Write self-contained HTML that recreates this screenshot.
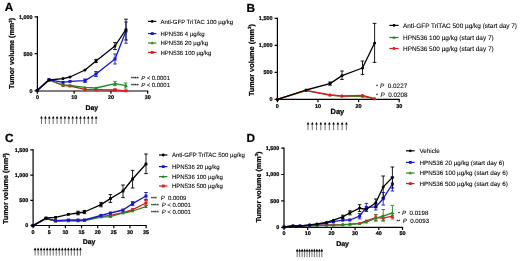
<!DOCTYPE html>
<html><head><meta charset="utf-8"><title>Figure</title>
<style>html,body{margin:0;padding:0;background:#fff}svg{display:block}</style></head>
<body>
<svg width="520" height="261" viewBox="0 0 520 261" font-family="'Liberation Sans',Arial,sans-serif" fill="#000" text-rendering="geometricPrecision" shape-rendering="geometricPrecision">
<rect width="520" height="261" fill="#fff"/>
<text x="4.80" y="11.30" font-size="11.8" font-weight="bold" text-anchor="start"  stroke="#000" stroke-width="0.22">A</text>
<text x="246.60" y="12.20" font-size="11.8" font-weight="bold" text-anchor="start"  stroke="#000" stroke-width="0.22">B</text>
<text x="5.00" y="142.20" font-size="11.8" font-weight="bold" text-anchor="start"  stroke="#000" stroke-width="0.22">C</text>
<text x="246.60" y="141.80" font-size="11.8" font-weight="bold" text-anchor="start"  stroke="#000" stroke-width="0.22">D</text>
<path d="M37.40 16.20V91.60M36.80 91.00H148.25" stroke="#000" stroke-width="1.2" fill="none"/>
<text x="32.60" y="92.54" font-size="5.4" font-weight="bold" text-anchor="end"  stroke="#000" stroke-width="0.22">0</text>
<text x="32.60" y="55.64" font-size="5.4" font-weight="bold" text-anchor="end"  stroke="#000" stroke-width="0.22">500</text>
<text x="32.60" y="18.74" font-size="5.4" font-weight="bold" text-anchor="end"  stroke="#000" stroke-width="0.22">1,000</text>
<text x="37.40" y="98.60" font-size="5.4" font-weight="bold" text-anchor="middle"  stroke="#000" stroke-width="0.22">0</text>
<text x="74.15" y="98.60" font-size="5.4" font-weight="bold" text-anchor="middle"  stroke="#000" stroke-width="0.22">10</text>
<text x="110.90" y="98.60" font-size="5.4" font-weight="bold" text-anchor="middle"  stroke="#000" stroke-width="0.22">20</text>
<text x="147.65" y="98.60" font-size="5.4" font-weight="bold" text-anchor="middle"  stroke="#000" stroke-width="0.22">30</text>
<path d="M34.60 90.60H37.40M34.60 53.70H37.40M34.60 16.80H37.40M37.40 91.00V93.80M74.15 91.00V93.80M110.90 91.00V93.80M147.65 91.00V93.80" stroke="#000" stroke-width="1.2" fill="none"/>
<text transform="translate(14.10 53.40) rotate(-90)" font-size="7.2" font-weight="bold" text-anchor="middle" stroke="#000" stroke-width="0.22">Tumor volume (mm<tspan font-size="4.46" dy="-2.59">3</tspan><tspan dy="2.59">)</tspan></text>
<text x="91.90" y="109.60" font-size="6.9" font-weight="bold" text-anchor="middle"  stroke="#000" stroke-width="0.22">Day</text>
<path d="M41.50 117.00V124.00M45.40 117.00V124.00M49.30 117.00V124.00M53.20 117.00V124.00M57.10 117.00V124.00M61.00 117.00V124.00M64.90 117.00V124.00M68.80 117.00V124.00M72.70 117.00V124.00M76.60 117.00V124.00M80.50 117.00V124.00M84.40 117.00V124.00M88.30 117.00V124.00M92.20 117.00V124.00M96.10 117.00V124.00" stroke="#000" stroke-width="0.55" fill="none"/>
<path d="M41.50 116.00L42.85 118.60H40.15Z" fill="#000"/>
<path d="M45.40 116.00L46.75 118.60H44.05Z" fill="#000"/>
<path d="M49.30 116.00L50.65 118.60H47.95Z" fill="#000"/>
<path d="M53.20 116.00L54.55 118.60H51.85Z" fill="#000"/>
<path d="M57.10 116.00L58.45 118.60H55.75Z" fill="#000"/>
<path d="M61.00 116.00L62.35 118.60H59.65Z" fill="#000"/>
<path d="M64.90 116.00L66.25 118.60H63.55Z" fill="#000"/>
<path d="M68.80 116.00L70.15 118.60H67.45Z" fill="#000"/>
<path d="M72.70 116.00L74.05 118.60H71.35Z" fill="#000"/>
<path d="M76.60 116.00L77.95 118.60H75.25Z" fill="#000"/>
<path d="M80.50 116.00L81.85 118.60H79.15Z" fill="#000"/>
<path d="M84.40 116.00L85.75 118.60H83.05Z" fill="#000"/>
<path d="M88.30 116.00L89.65 118.60H86.95Z" fill="#000"/>
<path d="M92.20 116.00L93.55 118.60H90.85Z" fill="#000"/>
<path d="M96.10 116.00L97.45 118.60H94.75Z" fill="#000"/>
<path d="M37.20 90.60L49.00 80.00L63.00 85.40L70.00 86.00L85.00 89.40L96.00 89.60L115.00 90.00L126.00 90.80" stroke="#e8141c" stroke-width="1.3" fill="none" stroke-linejoin="round"/>
<path d="M115.00 89.00V91.00M113.20 89.00H116.80M113.20 91.00H116.80" stroke="#e8141c" stroke-width="0.9" fill="none"/>
<rect x="35.70" y="89.10" width="3.0" height="3.0" fill="#e8141c"/>
<rect x="47.50" y="78.50" width="3.0" height="3.0" fill="#e8141c"/>
<rect x="61.50" y="83.90" width="3.0" height="3.0" fill="#e8141c"/>
<rect x="68.50" y="84.50" width="3.0" height="3.0" fill="#e8141c"/>
<rect x="83.50" y="87.90" width="3.0" height="3.0" fill="#e8141c"/>
<rect x="94.50" y="88.10" width="3.0" height="3.0" fill="#e8141c"/>
<rect x="113.50" y="88.50" width="3.0" height="3.0" fill="#e8141c"/>
<rect x="124.50" y="89.30" width="3.0" height="3.0" fill="#e8141c"/>
<path d="M37.20 90.60L49.00 80.00L63.00 85.00L70.00 85.40L85.00 87.40L96.00 88.00L115.00 83.60L126.00 85.60" stroke="#1f8a1f" stroke-width="1.3" fill="none" stroke-linejoin="round"/>
<path d="M115.00 81.60V85.60M113.20 81.60H116.80M113.20 85.60H116.80M125.60 83.00V88.00M123.80 83.00H127.40M123.80 88.00H127.40" stroke="#1f8a1f" stroke-width="0.9" fill="none"/>
<path d="M37.20 88.80L38.93 91.95H35.48Z" fill="#1f8a1f"/>
<path d="M49.00 78.20L50.73 81.35H47.27Z" fill="#1f8a1f"/>
<path d="M63.00 83.20L64.72 86.35H61.27Z" fill="#1f8a1f"/>
<path d="M70.00 83.60L71.72 86.75H68.28Z" fill="#1f8a1f"/>
<path d="M85.00 85.60L86.72 88.75H83.28Z" fill="#1f8a1f"/>
<path d="M96.00 86.20L97.72 89.35H94.28Z" fill="#1f8a1f"/>
<path d="M115.00 81.80L116.72 84.95H113.28Z" fill="#1f8a1f"/>
<path d="M126.00 83.80L127.72 86.95H124.28Z" fill="#1f8a1f"/>
<path d="M37.20 90.60L49.00 79.60L63.00 82.40L70.00 81.40L85.00 80.60L96.00 74.00L115.00 59.00L126.00 31.00" stroke="#1515d8" stroke-width="1.3" fill="none" stroke-linejoin="round"/>
<path d="M96.00 71.50V76.50M94.20 71.50H97.80M94.20 76.50H97.80M115.00 54.00V64.00M113.20 54.00H116.80M113.20 64.00H116.80M126.00 22.00V43.20M124.20 22.00H127.80M124.20 43.20H127.80M85.00 79.00V82.40M83.20 79.00H86.80M83.20 82.40H86.80" stroke="#1515d8" stroke-width="0.9" fill="none"/>
<rect x="35.70" y="89.10" width="3.0" height="3.0" fill="#1515d8"/>
<rect x="47.50" y="78.10" width="3.0" height="3.0" fill="#1515d8"/>
<rect x="61.50" y="80.90" width="3.0" height="3.0" fill="#1515d8"/>
<rect x="68.50" y="79.90" width="3.0" height="3.0" fill="#1515d8"/>
<rect x="83.50" y="79.10" width="3.0" height="3.0" fill="#1515d8"/>
<rect x="94.50" y="72.50" width="3.0" height="3.0" fill="#1515d8"/>
<rect x="113.50" y="57.50" width="3.0" height="3.0" fill="#1515d8"/>
<rect x="124.50" y="29.50" width="3.0" height="3.0" fill="#1515d8"/>
<path d="M37.20 90.60L49.00 80.00L63.00 78.60L70.00 77.00L85.00 70.00L96.00 61.00L115.00 46.00L126.00 29.40" stroke="#000" stroke-width="1.3" fill="none" stroke-linejoin="round"/>
<path d="M115.00 42.50V49.50M113.20 42.50H116.80M113.20 49.50H116.80M126.00 19.20V40.00M124.20 19.20H127.80M124.20 40.00H127.80M96.00 59.40V62.60M94.20 59.40H97.80M94.20 62.60H97.80" stroke="#000" stroke-width="0.9" fill="none"/>
<circle cx="37.20" cy="90.60" r="1.5" fill="#000"/>
<circle cx="49.00" cy="80.00" r="1.5" fill="#000"/>
<circle cx="63.00" cy="78.60" r="1.5" fill="#000"/>
<circle cx="70.00" cy="77.00" r="1.5" fill="#000"/>
<circle cx="85.00" cy="70.00" r="1.5" fill="#000"/>
<circle cx="96.00" cy="61.00" r="1.5" fill="#000"/>
<circle cx="115.00" cy="46.00" r="1.5" fill="#000"/>
<circle cx="126.00" cy="29.40" r="1.5" fill="#000"/>
<path d="M148.00 21.40H156.40" stroke="#000" stroke-width="1.2"/>
<circle cx="152.20" cy="21.40" r="1.4" fill="#000"/>
<text x="160.50" y="23.56" font-size="6.0" font-weight="normal" text-anchor="start"  stroke="#000" stroke-width="0.08">Anti-GFP TriTAC 100 µg/kg</text>
<path d="M148.00 33.60H156.40" stroke="#1515d8" stroke-width="1.2"/>
<rect x="150.80" y="32.20" width="2.8" height="2.8" fill="#1515d8"/>
<text x="160.50" y="35.76" font-size="6.0" font-weight="normal" text-anchor="start"  stroke="#000" stroke-width="0.08">HPN536 4 µg/kg</text>
<path d="M148.00 43.00H156.40" stroke="#1f8a1f" stroke-width="1.2"/>
<path d="M152.20 41.32L153.81 44.26H150.59Z" fill="#1f8a1f"/>
<text x="160.50" y="45.16" font-size="6.0" font-weight="normal" text-anchor="start"  stroke="#000" stroke-width="0.08">HPN536 20 µg/kg</text>
<path d="M148.00 52.40H156.40" stroke="#e8141c" stroke-width="1.2"/>
<rect x="150.80" y="51.00" width="2.8" height="2.8" fill="#e8141c"/>
<text x="160.50" y="54.56" font-size="6.0" font-weight="normal" text-anchor="start"  stroke="#000" stroke-width="0.08">HPN536 100 µg/kg</text>
<text y="80.24" font-size="5.95" xml:space="preserve" stroke="#000" stroke-width="0.08"><tspan x="131.00" font-size="4.88">****</tspan><tspan x="141.30" font-style="italic">P</tspan><tspan x="146.70">&lt; 0.0001</tspan></text>
<text y="87.44" font-size="5.95" xml:space="preserve" stroke="#000" stroke-width="0.08"><tspan x="131.00" font-size="4.88">****</tspan><tspan x="141.30" font-style="italic">P</tspan><tspan x="146.70">&lt; 0.0001</tspan></text>
<path d="M277.40 17.80V100.00M276.80 99.40H399.80" stroke="#000" stroke-width="1.2" fill="none"/>
<text x="272.60" y="101.38" font-size="5.5" font-weight="bold" text-anchor="end"  stroke="#000" stroke-width="0.22">0</text>
<text x="272.60" y="74.38" font-size="5.5" font-weight="bold" text-anchor="end"  stroke="#000" stroke-width="0.22">500</text>
<text x="272.60" y="47.38" font-size="5.5" font-weight="bold" text-anchor="end"  stroke="#000" stroke-width="0.22">1,000</text>
<text x="272.60" y="20.38" font-size="5.5" font-weight="bold" text-anchor="end"  stroke="#000" stroke-width="0.22">1,500</text>
<text x="277.40" y="108.40" font-size="5.5" font-weight="bold" text-anchor="middle"  stroke="#000" stroke-width="0.22">0</text>
<text x="318.00" y="108.40" font-size="5.5" font-weight="bold" text-anchor="middle"  stroke="#000" stroke-width="0.22">10</text>
<text x="358.60" y="108.40" font-size="5.5" font-weight="bold" text-anchor="middle"  stroke="#000" stroke-width="0.22">20</text>
<text x="399.20" y="108.40" font-size="5.5" font-weight="bold" text-anchor="middle"  stroke="#000" stroke-width="0.22">30</text>
<path d="M274.60 99.40H277.40M274.60 72.40H277.40M274.60 45.40H277.40M274.60 18.40H277.40M277.40 99.40V102.20M318.00 99.40V102.20M358.60 99.40V102.20M399.20 99.40V102.20" stroke="#000" stroke-width="1.2" fill="none"/>
<text transform="translate(253.60 60.00) rotate(-90)" font-size="7.3" font-weight="bold" text-anchor="middle" stroke="#000" stroke-width="0.22">Tumor volume (mm<tspan font-size="4.53" dy="-2.63">3</tspan><tspan dy="2.63">)</tspan></text>
<text x="337.40" y="114.00" font-size="7.5" font-weight="bold" text-anchor="middle"  stroke="#000" stroke-width="0.22">Day</text>
<path d="M308.00 123.00V130.20M312.27 123.00V130.20M316.54 123.00V130.20M320.81 123.00V130.20M325.08 123.00V130.20M329.35 123.00V130.20M333.62 123.00V130.20M337.89 123.00V130.20M342.16 123.00V130.20M346.43 123.00V130.20" stroke="#000" stroke-width="0.55" fill="none"/>
<path d="M308.00 122.00L309.35 124.60H306.65Z" fill="#000"/>
<path d="M312.27 122.00L313.62 124.60H310.92Z" fill="#000"/>
<path d="M316.54 122.00L317.89 124.60H315.19Z" fill="#000"/>
<path d="M320.81 122.00L322.16 124.60H319.46Z" fill="#000"/>
<path d="M325.08 122.00L326.43 124.60H323.73Z" fill="#000"/>
<path d="M329.35 122.00L330.70 124.60H328.00Z" fill="#000"/>
<path d="M333.62 122.00L334.97 124.60H332.27Z" fill="#000"/>
<path d="M337.89 122.00L339.24 124.60H336.54Z" fill="#000"/>
<path d="M342.16 122.00L343.51 124.60H340.81Z" fill="#000"/>
<path d="M346.43 122.00L347.78 124.60H345.08Z" fill="#000"/>
<path d="M277.40 99.40L306.00 90.60L330.00 95.20L342.00 96.20L362.50 96.40L374.60 98.80" stroke="#1f8a1f" stroke-width="1.3" fill="none" stroke-linejoin="round"/>
<path d="M277.40 97.60L279.12 100.75H275.67Z" fill="#1f8a1f"/>
<path d="M306.00 88.80L307.73 91.95H304.27Z" fill="#1f8a1f"/>
<path d="M330.00 93.40L331.73 96.55H328.27Z" fill="#1f8a1f"/>
<path d="M342.00 94.40L343.73 97.55H340.27Z" fill="#1f8a1f"/>
<path d="M362.50 94.60L364.23 97.75H360.77Z" fill="#1f8a1f"/>
<path d="M374.60 97.00L376.33 100.15H372.88Z" fill="#1f8a1f"/>
<path d="M277.40 99.40L306.00 90.40L330.00 95.00L342.00 96.00L362.50 95.40L374.60 98.60" stroke="#e8141c" stroke-width="1.3" fill="none" stroke-linejoin="round"/>
<circle cx="277.40" cy="99.40" r="1.4" fill="#e8141c"/>
<circle cx="306.00" cy="90.40" r="1.4" fill="#e8141c"/>
<circle cx="330.00" cy="95.00" r="1.4" fill="#e8141c"/>
<circle cx="342.00" cy="96.00" r="1.4" fill="#e8141c"/>
<circle cx="362.50" cy="95.40" r="1.4" fill="#e8141c"/>
<circle cx="374.60" cy="98.60" r="1.4" fill="#e8141c"/>
<path d="M277.40 99.40L306.00 90.00L330.00 83.60L342.00 75.60L362.50 68.00L374.60 43.00" stroke="#000" stroke-width="1.3" fill="none" stroke-linejoin="round"/>
<path d="M342.00 71.00V79.40M340.20 71.00H343.80M340.20 79.40H343.80M362.50 61.00V74.40M360.70 61.00H364.30M360.70 74.40H364.30M374.60 23.40V62.40M372.80 23.40H376.40M372.80 62.40H376.40M330.00 82.00V85.20M328.20 82.00H331.80M328.20 85.20H331.80" stroke="#000" stroke-width="0.9" fill="none"/>
<circle cx="277.40" cy="99.40" r="1.5" fill="#000"/>
<circle cx="306.00" cy="90.00" r="1.5" fill="#000"/>
<circle cx="330.00" cy="83.60" r="1.5" fill="#000"/>
<circle cx="342.00" cy="75.60" r="1.5" fill="#000"/>
<circle cx="362.50" cy="68.00" r="1.5" fill="#000"/>
<circle cx="374.60" cy="43.00" r="1.5" fill="#000"/>
<path d="M389.40 25.40H398.60" stroke="#000" stroke-width="1.2"/>
<circle cx="394.00" cy="25.40" r="1.4" fill="#000"/>
<text x="403.00" y="27.72" font-size="6.44" font-weight="normal" text-anchor="start"  stroke="#000" stroke-width="0.08">Anti-GFP TriTAC 500 µg/kg (start day 7)</text>
<path d="M389.40 37.50H398.60" stroke="#1f8a1f" stroke-width="1.2"/>
<path d="M394.00 35.82L395.61 38.76H392.39Z" fill="#1f8a1f"/>
<text x="403.00" y="39.82" font-size="6.44" font-weight="normal" text-anchor="start"  stroke="#000" stroke-width="0.08">HPN536 100 µg/kg (start day 7)</text>
<path d="M389.40 48.50H398.60" stroke="#e8141c" stroke-width="1.2"/>
<circle cx="394.00" cy="48.50" r="1.4" fill="#e8141c"/>
<text x="403.00" y="50.82" font-size="6.44" font-weight="normal" text-anchor="start"  stroke="#000" stroke-width="0.08">HPN536 500 µg/kg (start day 7)</text>
<text y="87.99" font-size="6.35" xml:space="preserve" stroke="#000" stroke-width="0.08"><tspan x="376.00" font-size="5.21">*</tspan><tspan x="380.00" font-style="italic">P</tspan><tspan x="387.80">0.0227</tspan></text>
<text y="96.59" font-size="6.35" xml:space="preserve" stroke="#000" stroke-width="0.08"><tspan x="376.00" font-size="5.21">*</tspan><tspan x="380.40" font-style="italic">P</tspan><tspan x="388.20">0.0208</tspan></text>
<path d="M33.10 149.25V226.10M32.50 225.50H146.72" stroke="#000" stroke-width="1.2" fill="none"/>
<text x="28.30" y="227.44" font-size="5.4" font-weight="bold" text-anchor="end"  stroke="#000" stroke-width="0.22">0</text>
<text x="28.30" y="202.24" font-size="5.4" font-weight="bold" text-anchor="end"  stroke="#000" stroke-width="0.22">500</text>
<text x="28.30" y="177.04" font-size="5.4" font-weight="bold" text-anchor="end"  stroke="#000" stroke-width="0.22">1,000</text>
<text x="28.30" y="151.79" font-size="5.4" font-weight="bold" text-anchor="end"  stroke="#000" stroke-width="0.22">1,500</text>
<text x="33.10" y="233.90" font-size="5.4" font-weight="bold" text-anchor="middle"  stroke="#000" stroke-width="0.22">0</text>
<text x="49.25" y="233.90" font-size="5.4" font-weight="bold" text-anchor="middle"  stroke="#000" stroke-width="0.22">5</text>
<text x="65.39" y="233.90" font-size="5.4" font-weight="bold" text-anchor="middle"  stroke="#000" stroke-width="0.22">10</text>
<text x="81.53" y="233.90" font-size="5.4" font-weight="bold" text-anchor="middle"  stroke="#000" stroke-width="0.22">15</text>
<text x="97.68" y="233.90" font-size="5.4" font-weight="bold" text-anchor="middle"  stroke="#000" stroke-width="0.22">20</text>
<text x="113.83" y="233.90" font-size="5.4" font-weight="bold" text-anchor="middle"  stroke="#000" stroke-width="0.22">25</text>
<text x="129.97" y="233.90" font-size="5.4" font-weight="bold" text-anchor="middle"  stroke="#000" stroke-width="0.22">30</text>
<text x="146.12" y="233.90" font-size="5.4" font-weight="bold" text-anchor="middle"  stroke="#000" stroke-width="0.22">35</text>
<path d="M30.30 225.50H33.10M30.30 200.30H33.10M30.30 175.10H33.10M30.30 149.85H33.10M33.10 225.50V228.30M49.25 225.50V228.30M65.39 225.50V228.30M81.53 225.50V228.30M97.68 225.50V228.30M113.83 225.50V228.30M129.97 225.50V228.30M146.12 225.50V228.30" stroke="#000" stroke-width="1.2" fill="none"/>
<text transform="translate(8.10 188.50) rotate(-90)" font-size="7.2" font-weight="bold" text-anchor="middle" stroke="#000" stroke-width="0.22">Tumor volume (mm<tspan font-size="4.46" dy="-2.59">3</tspan><tspan dy="2.59">)</tspan></text>
<text x="89.00" y="244.00" font-size="6.9" font-weight="bold" text-anchor="middle"  stroke="#000" stroke-width="0.22">Day</text>
<path d="M35.10 248.60V255.60M38.12 248.60V255.60M41.14 248.60V255.60M44.16 248.60V255.60M47.18 248.60V255.60M50.20 248.60V255.60M53.22 248.60V255.60M56.24 248.60V255.60M59.26 248.60V255.60M62.28 248.60V255.60M65.30 248.60V255.60M68.32 248.60V255.60M71.34 248.60V255.60M74.36 248.60V255.60M77.38 248.60V255.60M80.40 248.60V255.60" stroke="#000" stroke-width="0.55" fill="none"/>
<path d="M35.10 247.60L36.45 250.20H33.75Z" fill="#000"/>
<path d="M38.12 247.60L39.47 250.20H36.77Z" fill="#000"/>
<path d="M41.14 247.60L42.49 250.20H39.79Z" fill="#000"/>
<path d="M44.16 247.60L45.51 250.20H42.81Z" fill="#000"/>
<path d="M47.18 247.60L48.53 250.20H45.83Z" fill="#000"/>
<path d="M50.20 247.60L51.55 250.20H48.85Z" fill="#000"/>
<path d="M53.22 247.60L54.57 250.20H51.87Z" fill="#000"/>
<path d="M56.24 247.60L57.59 250.20H54.89Z" fill="#000"/>
<path d="M59.26 247.60L60.61 250.20H57.91Z" fill="#000"/>
<path d="M62.28 247.60L63.63 250.20H60.93Z" fill="#000"/>
<path d="M65.30 247.60L66.65 250.20H63.95Z" fill="#000"/>
<path d="M68.32 247.60L69.67 250.20H66.97Z" fill="#000"/>
<path d="M71.34 247.60L72.69 250.20H69.99Z" fill="#000"/>
<path d="M74.36 247.60L75.71 250.20H73.01Z" fill="#000"/>
<path d="M77.38 247.60L78.73 250.20H76.03Z" fill="#000"/>
<path d="M80.40 247.60L81.75 250.20H79.05Z" fill="#000"/>
<path d="M33.00 225.60L46.00 218.60L55.60 221.00L68.40 220.60L78.00 220.60L84.40 220.40L101.00 216.40L110.40 215.40L123.00 212.60L132.60 209.60L146.00 203.00" stroke="#e8141c" stroke-width="1.3" fill="none" stroke-linejoin="round"/>
<path d="M146.00 200.50V205.50M144.20 200.50H147.80M144.20 205.50H147.80" stroke="#e8141c" stroke-width="0.9" fill="none"/>
<rect x="31.50" y="224.10" width="3.0" height="3.0" fill="#e8141c"/>
<rect x="44.50" y="217.10" width="3.0" height="3.0" fill="#e8141c"/>
<rect x="54.10" y="219.50" width="3.0" height="3.0" fill="#e8141c"/>
<rect x="66.90" y="219.10" width="3.0" height="3.0" fill="#e8141c"/>
<rect x="76.50" y="219.10" width="3.0" height="3.0" fill="#e8141c"/>
<rect x="82.90" y="218.90" width="3.0" height="3.0" fill="#e8141c"/>
<rect x="99.50" y="214.90" width="3.0" height="3.0" fill="#e8141c"/>
<rect x="108.90" y="213.90" width="3.0" height="3.0" fill="#e8141c"/>
<rect x="121.50" y="211.10" width="3.0" height="3.0" fill="#e8141c"/>
<rect x="131.10" y="208.10" width="3.0" height="3.0" fill="#e8141c"/>
<rect x="144.50" y="201.50" width="3.0" height="3.0" fill="#e8141c"/>
<path d="M33.00 225.60L46.00 218.60L55.60 221.00L68.40 220.80L78.00 220.80L84.40 220.60L101.00 217.00L110.40 216.60L123.00 213.00L132.60 211.00L146.00 206.60" stroke="#1f8a1f" stroke-width="1.3" fill="none" stroke-linejoin="round"/>
<path d="M33.00 223.80L34.73 226.95H31.27Z" fill="#1f8a1f"/>
<path d="M46.00 216.80L47.73 219.95H44.27Z" fill="#1f8a1f"/>
<path d="M55.60 219.20L57.33 222.35H53.88Z" fill="#1f8a1f"/>
<path d="M68.40 219.00L70.12 222.15H66.68Z" fill="#1f8a1f"/>
<path d="M78.00 219.00L79.72 222.15H76.28Z" fill="#1f8a1f"/>
<path d="M84.40 218.80L86.12 221.95H82.68Z" fill="#1f8a1f"/>
<path d="M101.00 215.20L102.72 218.35H99.28Z" fill="#1f8a1f"/>
<path d="M110.40 214.80L112.12 217.95H108.68Z" fill="#1f8a1f"/>
<path d="M123.00 211.20L124.72 214.35H121.28Z" fill="#1f8a1f"/>
<path d="M132.60 209.20L134.32 212.35H130.88Z" fill="#1f8a1f"/>
<path d="M146.00 204.80L147.72 207.95H144.28Z" fill="#1f8a1f"/>
<path d="M33.00 225.60L46.00 218.40L55.60 220.60L68.40 220.00L78.00 220.00L84.40 220.00L101.00 215.40L110.40 213.00L123.00 210.00L132.60 203.60L146.00 196.00" stroke="#1515d8" stroke-width="1.3" fill="none" stroke-linejoin="round"/>
<path d="M146.00 192.50V199.50M144.20 192.50H147.80M144.20 199.50H147.80M132.60 201.60V205.60M130.80 201.60H134.40M130.80 205.60H134.40" stroke="#1515d8" stroke-width="0.9" fill="none"/>
<rect x="31.50" y="224.10" width="3.0" height="3.0" fill="#1515d8"/>
<rect x="44.50" y="216.90" width="3.0" height="3.0" fill="#1515d8"/>
<rect x="54.10" y="219.10" width="3.0" height="3.0" fill="#1515d8"/>
<rect x="66.90" y="218.50" width="3.0" height="3.0" fill="#1515d8"/>
<rect x="76.50" y="218.50" width="3.0" height="3.0" fill="#1515d8"/>
<rect x="82.90" y="218.50" width="3.0" height="3.0" fill="#1515d8"/>
<rect x="99.50" y="213.90" width="3.0" height="3.0" fill="#1515d8"/>
<rect x="108.90" y="211.50" width="3.0" height="3.0" fill="#1515d8"/>
<rect x="121.50" y="208.50" width="3.0" height="3.0" fill="#1515d8"/>
<rect x="131.10" y="202.10" width="3.0" height="3.0" fill="#1515d8"/>
<rect x="144.50" y="194.50" width="3.0" height="3.0" fill="#1515d8"/>
<path d="M33.00 225.60L46.00 218.00L55.60 217.40L68.40 214.40L78.00 213.00L84.40 212.00L101.00 204.60L110.40 198.60L123.00 191.00L132.60 179.00L146.00 164.00" stroke="#000" stroke-width="1.3" fill="none" stroke-linejoin="round"/>
<path d="M146.00 154.00V173.60M144.20 154.00H147.80M144.20 173.60H147.80M132.60 170.40V188.00M130.80 170.40H134.40M130.80 188.00H134.40M123.00 185.00V197.60M121.20 185.00H124.80M121.20 197.60H124.80M110.40 194.60V202.40M108.60 194.60H112.20M108.60 202.40H112.20M101.00 202.40V206.80M99.20 202.40H102.80M99.20 206.80H102.80M84.40 210.40V213.60M82.60 210.40H86.20M82.60 213.60H86.20M78.00 211.20V214.80M76.20 211.20H79.80M76.20 214.80H79.80" stroke="#000" stroke-width="0.9" fill="none"/>
<rect x="31.60" y="224.20" width="2.8" height="2.8" fill="#000"/>
<rect x="44.60" y="216.60" width="2.8" height="2.8" fill="#000"/>
<rect x="54.20" y="216.00" width="2.8" height="2.8" fill="#000"/>
<rect x="67.00" y="213.00" width="2.8" height="2.8" fill="#000"/>
<rect x="76.60" y="211.60" width="2.8" height="2.8" fill="#000"/>
<rect x="83.00" y="210.60" width="2.8" height="2.8" fill="#000"/>
<rect x="99.60" y="203.20" width="2.8" height="2.8" fill="#000"/>
<rect x="109.00" y="197.20" width="2.8" height="2.8" fill="#000"/>
<rect x="121.60" y="189.60" width="2.8" height="2.8" fill="#000"/>
<rect x="131.20" y="177.60" width="2.8" height="2.8" fill="#000"/>
<rect x="144.60" y="162.60" width="2.8" height="2.8" fill="#000"/>
<path d="M159.00 155.00H167.40" stroke="#000" stroke-width="1.2"/>
<circle cx="163.20" cy="155.00" r="1.4" fill="#000"/>
<text x="172.00" y="157.17" font-size="6.03" font-weight="normal" text-anchor="start"  stroke="#000" stroke-width="0.08">Anti-GFP TriTAC 500 µg/kg</text>
<path d="M159.00 166.60H167.40" stroke="#1515d8" stroke-width="1.2"/>
<rect x="161.80" y="165.20" width="2.8" height="2.8" fill="#1515d8"/>
<text x="172.00" y="168.77" font-size="6.03" font-weight="normal" text-anchor="start"  stroke="#000" stroke-width="0.08">HPN536 20 µg/kg</text>
<path d="M159.00 176.60H167.40" stroke="#1f8a1f" stroke-width="1.2"/>
<path d="M163.20 174.92L164.81 177.86H161.59Z" fill="#1f8a1f"/>
<text x="172.00" y="178.77" font-size="6.03" font-weight="normal" text-anchor="start"  stroke="#000" stroke-width="0.08">HPN536 100 µg/kg</text>
<path d="M159.00 186.00H167.40" stroke="#e8141c" stroke-width="1.2"/>
<rect x="161.80" y="184.60" width="2.8" height="2.8" fill="#e8141c"/>
<text x="172.00" y="188.17" font-size="6.03" font-weight="normal" text-anchor="start"  stroke="#000" stroke-width="0.08">HPN536 500 µg/kg</text>
<text y="199.66" font-size="6.0" xml:space="preserve" stroke="#000" stroke-width="0.08"><tspan x="151.00" font-size="4.92">***</tspan><tspan x="160.80" font-style="italic">P</tspan><tspan x="168.00">0.0009</tspan></text>
<text y="207.16" font-size="6.0" xml:space="preserve" stroke="#000" stroke-width="0.08"><tspan x="151.00" font-size="4.92">****</tspan><tspan x="161.80" font-style="italic">P</tspan><tspan x="167.30">&lt; 0.0001</tspan></text>
<text y="214.36" font-size="6.0" xml:space="preserve" stroke="#000" stroke-width="0.08"><tspan x="151.00" font-size="4.92">****</tspan><tspan x="161.80" font-style="italic">P</tspan><tspan x="167.30">&lt; 0.0001</tspan></text>
<path d="M284.00 147.50V227.90M283.40 227.30H403.10" stroke="#000" stroke-width="1.2" fill="none"/>
<text x="279.20" y="229.24" font-size="5.4" font-weight="bold" text-anchor="end"  stroke="#000" stroke-width="0.22">0</text>
<text x="279.20" y="202.84" font-size="5.4" font-weight="bold" text-anchor="end"  stroke="#000" stroke-width="0.22">500</text>
<text x="279.20" y="176.44" font-size="5.4" font-weight="bold" text-anchor="end"  stroke="#000" stroke-width="0.22">1,000</text>
<text x="279.20" y="150.04" font-size="5.4" font-weight="bold" text-anchor="end"  stroke="#000" stroke-width="0.22">1,500</text>
<text x="284.00" y="235.00" font-size="5.4" font-weight="bold" text-anchor="middle"  stroke="#000" stroke-width="0.22">0</text>
<text x="307.70" y="235.00" font-size="5.4" font-weight="bold" text-anchor="middle"  stroke="#000" stroke-width="0.22">10</text>
<text x="331.40" y="235.00" font-size="5.4" font-weight="bold" text-anchor="middle"  stroke="#000" stroke-width="0.22">20</text>
<text x="355.10" y="235.00" font-size="5.4" font-weight="bold" text-anchor="middle"  stroke="#000" stroke-width="0.22">30</text>
<text x="378.80" y="235.00" font-size="5.4" font-weight="bold" text-anchor="middle"  stroke="#000" stroke-width="0.22">40</text>
<text x="402.50" y="235.00" font-size="5.4" font-weight="bold" text-anchor="middle"  stroke="#000" stroke-width="0.22">50</text>
<path d="M281.20 227.30H284.00M281.20 200.90H284.00M281.20 174.50H284.00M281.20 148.10H284.00M284.00 227.30V230.10M307.70 227.30V230.10M331.40 227.30V230.10M355.10 227.30V230.10M378.80 227.30V230.10M402.50 227.30V230.10" stroke="#000" stroke-width="1.2" fill="none"/>
<text transform="translate(260.60 187.00) rotate(-90)" font-size="7.2" font-weight="bold" text-anchor="middle" stroke="#000" stroke-width="0.22">Tumor volume (mm<tspan font-size="4.46" dy="-2.59">3</tspan><tspan dy="2.59">)</tspan></text>
<text x="342.60" y="246.00" font-size="7.0" font-weight="bold" text-anchor="middle"  stroke="#000" stroke-width="0.22">Day</text>
<path d="M297.20 249.80V257.20M299.66 249.80V257.20M302.12 249.80V257.20M304.58 249.80V257.20M307.04 249.80V257.20M309.50 249.80V257.20M311.96 249.80V257.20M314.42 249.80V257.20M316.88 249.80V257.20M319.34 249.80V257.20M321.80 249.80V257.20" stroke="#000" stroke-width="0.55" fill="none"/>
<path d="M297.20 248.80L298.55 251.40H295.85Z" fill="#000"/>
<path d="M299.66 248.80L301.01 251.40H298.31Z" fill="#000"/>
<path d="M302.12 248.80L303.47 251.40H300.77Z" fill="#000"/>
<path d="M304.58 248.80L305.93 251.40H303.23Z" fill="#000"/>
<path d="M307.04 248.80L308.39 251.40H305.69Z" fill="#000"/>
<path d="M309.50 248.80L310.85 251.40H308.15Z" fill="#000"/>
<path d="M311.96 248.80L313.31 251.40H310.61Z" fill="#000"/>
<path d="M314.42 248.80L315.77 251.40H313.07Z" fill="#000"/>
<path d="M316.88 248.80L318.23 251.40H315.53Z" fill="#000"/>
<path d="M319.34 248.80L320.69 251.40H317.99Z" fill="#000"/>
<path d="M321.80 248.80L323.15 251.40H320.45Z" fill="#000"/>
<path d="M284.00 227.00L293.00 226.20L300.00 226.20L309.60 225.60L317.00 225.20L326.40 225.00L333.40 224.80L342.80 224.60L349.90 224.20L359.60 223.40L366.30 220.90L375.80 217.50L383.20 218.20L392.40 216.20" stroke="#e8141c" stroke-width="1.3" fill="none" stroke-linejoin="round"/>
<path d="M392.40 213.50V218.90M390.60 213.50H394.20M390.60 218.90H394.20M375.80 214.40V220.90M374.00 214.40H377.60M374.00 220.90H377.60M383.20 215.40V221.00M381.40 215.40H385.00M381.40 221.00H385.00" stroke="#e8141c" stroke-width="0.9" fill="none"/>
<rect x="282.70" y="225.70" width="2.6" height="2.6" fill="#e8141c"/>
<rect x="291.70" y="224.90" width="2.6" height="2.6" fill="#e8141c"/>
<rect x="298.70" y="224.90" width="2.6" height="2.6" fill="#e8141c"/>
<rect x="308.30" y="224.30" width="2.6" height="2.6" fill="#e8141c"/>
<rect x="315.70" y="223.90" width="2.6" height="2.6" fill="#e8141c"/>
<rect x="325.10" y="223.70" width="2.6" height="2.6" fill="#e8141c"/>
<rect x="332.10" y="223.50" width="2.6" height="2.6" fill="#e8141c"/>
<rect x="341.50" y="223.30" width="2.6" height="2.6" fill="#e8141c"/>
<rect x="348.60" y="222.90" width="2.6" height="2.6" fill="#e8141c"/>
<rect x="358.30" y="222.10" width="2.6" height="2.6" fill="#e8141c"/>
<rect x="365.00" y="219.60" width="2.6" height="2.6" fill="#e8141c"/>
<rect x="374.50" y="216.20" width="2.6" height="2.6" fill="#e8141c"/>
<rect x="381.90" y="216.90" width="2.6" height="2.6" fill="#e8141c"/>
<rect x="391.10" y="214.90" width="2.6" height="2.6" fill="#e8141c"/>
<path d="M284.00 227.00L293.00 226.20L300.00 226.20L309.60 225.80L317.00 225.60L326.40 225.40L333.40 225.20L342.80 224.80L349.90 224.40L359.60 223.60L366.30 222.20L375.80 218.20L383.20 216.20L392.40 212.80" stroke="#1f8a1f" stroke-width="1.3" fill="none" stroke-linejoin="round"/>
<path d="M392.40 205.40V217.50M390.60 205.40H394.20M390.60 217.50H394.20M383.20 209.50V220.90M381.40 209.50H385.00M381.40 220.90H385.00M375.80 214.80V220.90M374.00 214.80H377.60M374.00 220.90H377.60" stroke="#1f8a1f" stroke-width="0.9" fill="none"/>
<path d="M284.00 225.20L285.73 228.35H282.27Z" fill="#1f8a1f"/>
<path d="M293.00 224.40L294.73 227.55H291.27Z" fill="#1f8a1f"/>
<path d="M300.00 224.40L301.73 227.55H298.27Z" fill="#1f8a1f"/>
<path d="M309.60 224.00L311.33 227.15H307.88Z" fill="#1f8a1f"/>
<path d="M317.00 223.80L318.73 226.95H315.27Z" fill="#1f8a1f"/>
<path d="M326.40 223.60L328.12 226.75H324.67Z" fill="#1f8a1f"/>
<path d="M333.40 223.40L335.12 226.55H331.67Z" fill="#1f8a1f"/>
<path d="M342.80 223.00L344.53 226.15H341.07Z" fill="#1f8a1f"/>
<path d="M349.90 222.60L351.62 225.75H348.17Z" fill="#1f8a1f"/>
<path d="M359.60 221.80L361.33 224.95H357.88Z" fill="#1f8a1f"/>
<path d="M366.30 220.40L368.03 223.55H364.57Z" fill="#1f8a1f"/>
<path d="M375.80 216.40L377.53 219.55H374.07Z" fill="#1f8a1f"/>
<path d="M383.20 214.40L384.93 217.55H381.47Z" fill="#1f8a1f"/>
<path d="M392.40 211.00L394.12 214.15H390.67Z" fill="#1f8a1f"/>
<path d="M284.00 227.00L293.00 226.00L300.00 226.00L309.60 225.20L317.00 224.40L326.40 223.00L333.40 221.60L342.80 220.20L349.90 220.00L359.60 216.20L366.30 207.40L375.80 206.80L383.20 198.70L392.40 184.00" stroke="#1515d8" stroke-width="1.3" fill="none" stroke-linejoin="round"/>
<path d="M392.40 177.00V191.00M390.60 177.00H394.20M390.60 191.00H394.20M383.20 192.50V205.00M381.40 192.50H385.00M381.40 205.00H385.00M375.80 204.00V210.00M374.00 204.00H377.60M374.00 210.00H377.60M366.30 203.40V211.50M364.50 203.40H368.10M364.50 211.50H368.10M359.60 213.50V218.90M357.80 213.50H361.40M357.80 218.90H361.40" stroke="#1515d8" stroke-width="0.9" fill="none"/>
<rect x="282.50" y="225.50" width="3.0" height="3.0" fill="#1515d8"/>
<rect x="291.50" y="224.50" width="3.0" height="3.0" fill="#1515d8"/>
<rect x="298.50" y="224.50" width="3.0" height="3.0" fill="#1515d8"/>
<rect x="308.10" y="223.70" width="3.0" height="3.0" fill="#1515d8"/>
<rect x="315.50" y="222.90" width="3.0" height="3.0" fill="#1515d8"/>
<rect x="324.90" y="221.50" width="3.0" height="3.0" fill="#1515d8"/>
<rect x="331.90" y="220.10" width="3.0" height="3.0" fill="#1515d8"/>
<rect x="341.30" y="218.70" width="3.0" height="3.0" fill="#1515d8"/>
<rect x="348.40" y="218.50" width="3.0" height="3.0" fill="#1515d8"/>
<rect x="358.10" y="214.70" width="3.0" height="3.0" fill="#1515d8"/>
<rect x="364.80" y="205.90" width="3.0" height="3.0" fill="#1515d8"/>
<rect x="374.30" y="205.30" width="3.0" height="3.0" fill="#1515d8"/>
<rect x="381.70" y="197.20" width="3.0" height="3.0" fill="#1515d8"/>
<rect x="390.90" y="182.50" width="3.0" height="3.0" fill="#1515d8"/>
<path d="M284.00 227.00L293.00 226.00L300.00 226.00L309.60 225.00L317.00 224.00L326.40 222.40L333.40 220.20L342.80 216.90L349.90 212.80L359.60 208.10L366.30 209.50L375.80 202.70L383.20 187.00L392.40 177.40" stroke="#000" stroke-width="1.3" fill="none" stroke-linejoin="round"/>
<path d="M392.40 167.00V188.00M390.60 167.00H394.20M390.60 188.00H394.20M383.20 176.00V198.00M381.40 176.00H385.00M381.40 198.00H385.00M375.80 199.00V207.00M374.00 199.00H377.60M374.00 207.00H377.60M359.60 204.70V211.50M357.80 204.70H361.40M357.80 211.50H361.40M349.90 210.80V214.80M348.10 210.80H351.70M348.10 214.80H351.70M342.80 215.20V218.60M341.00 215.20H344.60M341.00 218.60H344.60" stroke="#000" stroke-width="0.9" fill="none"/>
<circle cx="284.00" cy="227.00" r="1.5" fill="#000"/>
<circle cx="293.00" cy="226.00" r="1.5" fill="#000"/>
<circle cx="300.00" cy="226.00" r="1.5" fill="#000"/>
<circle cx="309.60" cy="225.00" r="1.5" fill="#000"/>
<circle cx="317.00" cy="224.00" r="1.5" fill="#000"/>
<circle cx="326.40" cy="222.40" r="1.5" fill="#000"/>
<circle cx="333.40" cy="220.20" r="1.5" fill="#000"/>
<circle cx="342.80" cy="216.90" r="1.5" fill="#000"/>
<circle cx="349.90" cy="212.80" r="1.5" fill="#000"/>
<circle cx="359.60" cy="208.10" r="1.5" fill="#000"/>
<circle cx="366.30" cy="209.50" r="1.5" fill="#000"/>
<circle cx="375.80" cy="202.70" r="1.5" fill="#000"/>
<circle cx="383.20" cy="187.00" r="1.5" fill="#000"/>
<circle cx="392.40" cy="177.40" r="1.5" fill="#000"/>
<path d="M406.00 150.80H414.60" stroke="#000" stroke-width="1.2"/>
<circle cx="410.30" cy="150.80" r="1.4" fill="#000"/>
<text x="419.50" y="153.06" font-size="6.28" font-weight="normal" text-anchor="start"  stroke="#000" stroke-width="0.08">Vehicle</text>
<path d="M406.00 162.40H414.60" stroke="#1515d8" stroke-width="1.2"/>
<rect x="408.90" y="161.00" width="2.8" height="2.8" fill="#1515d8"/>
<text x="419.50" y="164.66" font-size="6.28" font-weight="normal" text-anchor="start"  stroke="#000" stroke-width="0.08">HPN536 20 µg/kg (start day 6)</text>
<path d="M406.00 173.00H414.60" stroke="#1f8a1f" stroke-width="1.2"/>
<path d="M410.30 171.32L411.91 174.26H408.69Z" fill="#1f8a1f"/>
<text x="419.50" y="175.26" font-size="6.28" font-weight="normal" text-anchor="start"  stroke="#000" stroke-width="0.08">HPN536 100 µg/kg (start day 6)</text>
<path d="M406.00 183.60H414.60" stroke="#e8141c" stroke-width="1.2"/>
<rect x="408.90" y="182.20" width="2.8" height="2.8" fill="#e8141c"/>
<text x="419.50" y="185.86" font-size="6.28" font-weight="normal" text-anchor="start"  stroke="#000" stroke-width="0.08">HPN536 500 µg/kg (start day 6)</text>
<text y="215.43" font-size="6.2" xml:space="preserve" stroke="#000" stroke-width="0.08"><tspan x="398.00" font-size="5.08">*</tspan><tspan x="402.00" font-style="italic">P</tspan><tspan x="409.50">0.0198</tspan></text>
<text y="223.43" font-size="6.2" xml:space="preserve" stroke="#000" stroke-width="0.08"><tspan x="396.40" font-size="5.08">**</tspan><tspan x="402.80" font-style="italic">P</tspan><tspan x="410.20">0.0093</tspan></text>
</svg>
</body></html>
